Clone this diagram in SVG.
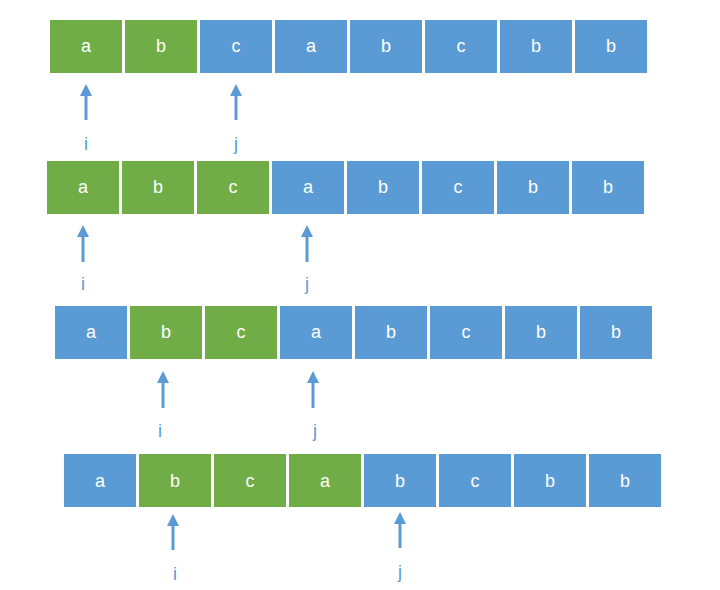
<svg xmlns="http://www.w3.org/2000/svg" width="720" height="590" viewBox="0 0 720 590">
<style>
.g{fill:#70AD47}.b{fill:#5B9BD5}
.t{font-family:"Liberation Sans",Arial,sans-serif;font-size:18px;fill:#fff;text-anchor:middle}
.l{font-family:"Liberation Sans",Arial,sans-serif;font-size:18px;fill:#5B9BD5;text-anchor:middle}
.a{stroke:#5B9BD5;stroke-width:3;marker-end:url(#h)}
</style>
<defs><marker id="h" viewBox="0 0 10 10" refX="5" refY="5" markerWidth="4" markerHeight="4" orient="auto"><path d="M0,0L10,5L0,10z" fill="#5B9BD5"/></marker></defs>
<rect width="720" height="590" fill="#fff"/>
<g id="row1">
<rect class="g" x="50" y="20" width="72" height="53"/><rect class="g" x="125" y="20" width="72" height="53"/><rect class="b" x="200" y="20" width="72" height="53"/><rect class="b" x="275" y="20" width="72" height="53"/><rect class="b" x="350" y="20" width="72" height="53"/><rect class="b" x="425" y="20" width="72" height="53"/><rect class="b" x="500" y="20" width="72" height="53"/><rect class="b" x="575" y="20" width="72" height="53"/>
<text class="t" x="86" y="52">a</text><text class="t" x="161" y="52">b</text><text class="t" x="236" y="52">c</text><text class="t" x="311" y="52">a</text><text class="t" x="386" y="52">b</text><text class="t" x="461" y="52">c</text><text class="t" x="536" y="52">b</text><text class="t" x="611" y="52">b</text>
</g>
<g id="row2">
<rect class="g" x="47" y="161" width="72" height="53"/><rect class="g" x="122" y="161" width="72" height="53"/><rect class="g" x="197" y="161" width="72" height="53"/><rect class="b" x="272" y="161" width="72" height="53"/><rect class="b" x="347" y="161" width="72" height="53"/><rect class="b" x="422" y="161" width="72" height="53"/><rect class="b" x="497" y="161" width="72" height="53"/><rect class="b" x="572" y="161" width="72" height="53"/>
<text class="t" x="83" y="193">a</text><text class="t" x="158" y="193">b</text><text class="t" x="233" y="193">c</text><text class="t" x="308" y="193">a</text><text class="t" x="383" y="193">b</text><text class="t" x="458" y="193">c</text><text class="t" x="533" y="193">b</text><text class="t" x="608" y="193">b</text>
</g>
<g id="row3">
<rect class="b" x="55" y="306" width="72" height="53"/><rect class="g" x="130" y="306" width="72" height="53"/><rect class="g" x="205" y="306" width="72" height="53"/><rect class="b" x="280" y="306" width="72" height="53"/><rect class="b" x="355" y="306" width="72" height="53"/><rect class="b" x="430" y="306" width="72" height="53"/><rect class="b" x="505" y="306" width="72" height="53"/><rect class="b" x="580" y="306" width="72" height="53"/>
<text class="t" x="91" y="338">a</text><text class="t" x="166" y="338">b</text><text class="t" x="241" y="338">c</text><text class="t" x="316" y="338">a</text><text class="t" x="391" y="338">b</text><text class="t" x="466" y="338">c</text><text class="t" x="541" y="338">b</text><text class="t" x="616" y="338">b</text>
</g>
<g id="row4">
<rect class="b" x="64" y="454" width="72" height="53"/><rect class="g" x="139" y="454" width="72" height="53"/><rect class="g" x="214" y="454" width="72" height="53"/><rect class="g" x="289" y="454" width="72" height="53"/><rect class="b" x="364" y="454" width="72" height="53"/><rect class="b" x="439" y="454" width="72" height="53"/><rect class="b" x="514" y="454" width="72" height="53"/><rect class="b" x="589" y="454" width="72" height="53"/>
<text class="t" x="100" y="487">a</text><text class="t" x="175" y="487">b</text><text class="t" x="250" y="487">c</text><text class="t" x="325" y="487">a</text><text class="t" x="400" y="487">b</text><text class="t" x="475" y="487">c</text><text class="t" x="550" y="487">b</text><text class="t" x="625" y="487">b</text>
</g>
<g id="connectors">
<line class="a" x1="86" y1="120" x2="86" y2="90"/><line class="a" x1="236" y1="120" x2="236" y2="90"/>
<line class="a" x1="83" y1="262" x2="83" y2="231"/><line class="a" x1="307" y1="262" x2="307" y2="231"/>
<line class="a" x1="163" y1="408" x2="163" y2="377"/><line class="a" x1="313" y1="408" x2="313" y2="377"/>
<line class="a" x1="173" y1="550" x2="173" y2="520"/><line class="a" x1="400" y1="548" x2="400" y2="518"/>
</g>
<g id="labels">
<text class="l" x="86" y="150">i</text><text class="l" x="236" y="150">j</text>
<text class="l" x="83" y="290">i</text><text class="l" x="307" y="290">j</text>
<text class="l" x="160" y="437">i</text><text class="l" x="315" y="437">j</text>
<text class="l" x="175" y="580">i</text><text class="l" x="400" y="578">j</text>
</g>
</svg>
